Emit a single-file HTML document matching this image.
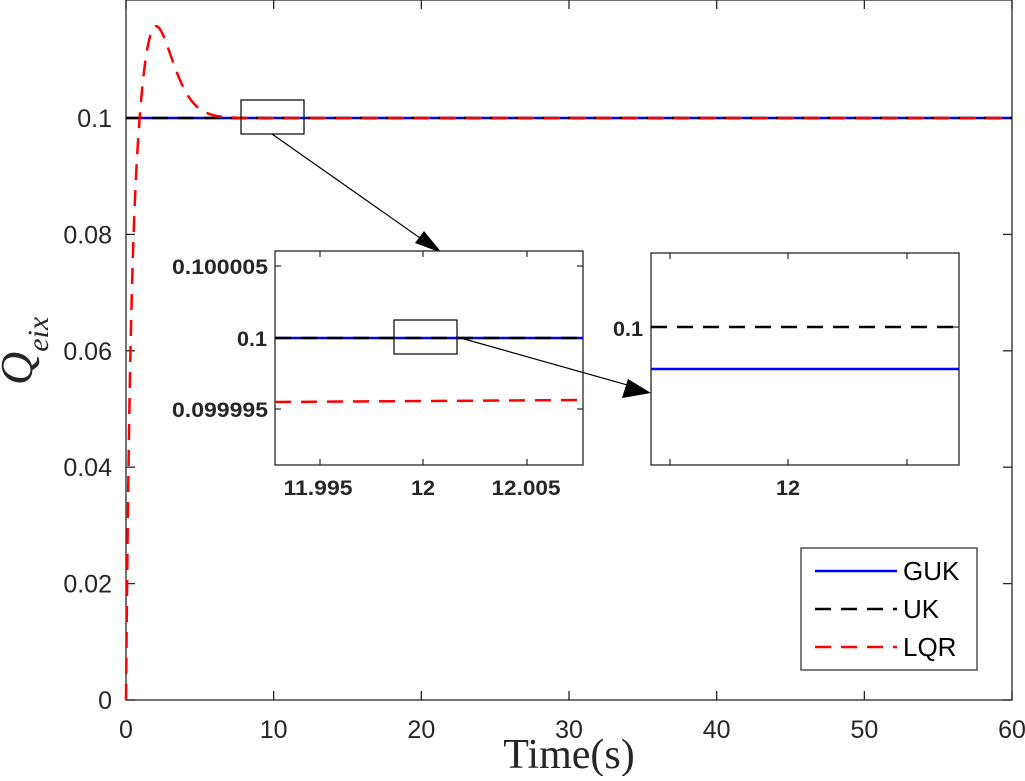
<!DOCTYPE html>
<html><head><meta charset="utf-8"><style>
html,body{margin:0;padding:0;background:#fff;}
svg text{font-family:"Liberation Sans",sans-serif;}
</style></head><body>
<svg id="s" width="1025" height="776" xmlns="http://www.w3.org/2000/svg">
<rect width="1025" height="776" fill="#fff"/>
<g stroke="#262626" stroke-width="1.3" fill="none">
<rect x="126" y="0" width="886" height="700"/>
</g>
<g id="ticks" stroke="#262626" stroke-width="1.3"></g>
<g font-size="25" fill="#262626" text-anchor="end" id="ylab"></g>
<g font-size="25" fill="#262626" text-anchor="middle" id="xlab"></g>
<text x="569" y="768" font-size="42" text-anchor="middle" fill="#262626" style="font-family:'Liberation Serif',serif">Time(s)</text>
<text transform="translate(32,385) rotate(-90)" font-size="46" fill="#262626" style="font-family:'Liberation Serif',serif;font-style:italic">Q<tspan font-size="30" dy="16">eix</tspan></text>
<line x1="126" y1="118" x2="1012" y2="118" stroke="#0000ff" stroke-width="2.5"/>
<line x1="126" y1="118" x2="1012" y2="118" stroke="#000" stroke-width="2.5" stroke-dasharray="16,10"/>
<path id="red" fill="none" stroke="#ff0000" stroke-width="2.5" stroke-dasharray="16,10"/>
<rect x="241" y="100" width="63" height="34" fill="none" stroke="#000" stroke-width="1.2"/>
<line x1="272" y1="134" x2="430" y2="245" stroke="#000" stroke-width="1.2"/>
<polygon points="442,253 415,243 424,231" fill="#000"/>
<rect x="275" y="251" width="308" height="214" fill="#fff" stroke="#262626" stroke-width="1.3"/>
<g stroke="#262626" stroke-width="1.2">
<line x1="320" y1="465" x2="320" y2="459"/><line x1="423" y1="465" x2="423" y2="459"/><line x1="527" y1="465" x2="527" y2="459"/>
<line x1="320" y1="251" x2="320" y2="257"/><line x1="423" y1="251" x2="423" y2="257"/><line x1="527" y1="251" x2="527" y2="257"/>
<line x1="275" y1="266" x2="281" y2="266"/><line x1="275" y1="338" x2="281" y2="338"/><line x1="275" y1="409" x2="281" y2="409"/>
<line x1="583" y1="266" x2="577" y2="266"/><line x1="583" y1="338" x2="577" y2="338"/><line x1="583" y1="409" x2="577" y2="409"/>
</g>
<line x1="275" y1="338" x2="583" y2="338" stroke="#0000ff" stroke-width="2.5"/>
<line x1="275" y1="338" x2="583" y2="338" stroke="#000" stroke-width="2.5" stroke-dasharray="16,10"/>
<line x1="275" y1="402" x2="583" y2="400" stroke="#ff0000" stroke-width="2.5" stroke-dasharray="16,10"/>
<g font-size="21" font-weight="bold" fill="#262626">
<text x="268" y="274" text-anchor="end" textLength="96" lengthAdjust="spacingAndGlyphs">0.100005</text>
<text x="267" y="346" text-anchor="end" textLength="30" lengthAdjust="spacingAndGlyphs">0.1</text>
<text x="268" y="417" text-anchor="end" textLength="96" lengthAdjust="spacingAndGlyphs">0.099995</text>
<text x="318" y="495" text-anchor="middle" textLength="69" lengthAdjust="spacingAndGlyphs">11.995</text>
<text x="423" y="495" text-anchor="middle" textLength="24" lengthAdjust="spacingAndGlyphs">12</text>
<text x="526" y="495" text-anchor="middle" textLength="69" lengthAdjust="spacingAndGlyphs">12.005</text>
</g>
<rect x="394" y="320" width="63" height="34" fill="none" stroke="#000" stroke-width="1.2"/>
<line x1="457" y1="337" x2="638" y2="388" stroke="#000" stroke-width="1.2"/>
<polygon points="651,393 622,398 628,379" fill="#000"/>
<rect x="651" y="253" width="308" height="212" fill="#fff" stroke="#262626" stroke-width="1.3"/>
<g stroke="#262626" stroke-width="1.2">
<line x1="670" y1="465" x2="670" y2="459"/><line x1="788" y1="465" x2="788" y2="459"/><line x1="907" y1="465" x2="907" y2="459"/>
<line x1="670" y1="253" x2="670" y2="259"/><line x1="788" y1="253" x2="788" y2="259"/><line x1="907" y1="253" x2="907" y2="259"/>
<line x1="651" y1="327" x2="657" y2="327"/><line x1="959" y1="327" x2="953" y2="327"/>
</g>
<line x1="651" y1="369" x2="959" y2="369" stroke="#0000ff" stroke-width="2.5"/>
<line x1="651" y1="327" x2="959" y2="327" stroke="#000" stroke-width="2.5" stroke-dasharray="16,10"/>
<g font-size="21" font-weight="bold" fill="#262626">
<text x="643" y="336" text-anchor="end" textLength="30" lengthAdjust="spacingAndGlyphs">0.1</text>
<text x="788" y="495" text-anchor="middle" textLength="24" lengthAdjust="spacingAndGlyphs">12</text>
</g>
<rect x="801" y="548" width="176" height="122" fill="#fff" stroke="#262626" stroke-width="1.2"/>
<line x1="815" y1="571" x2="897" y2="571" stroke="#0000ff" stroke-width="2.5"/>
<line x1="815" y1="609" x2="897" y2="609" stroke="#000" stroke-width="2.5" stroke-dasharray="16,10"/>
<line x1="815" y1="647" x2="897" y2="647" stroke="#ff0000" stroke-width="2.5" stroke-dasharray="16,10"/>
<g font-size="26" fill="#000">
<text x="903" y="580">GUK</text>
<text x="903" y="618">UK</text>
<text x="903" y="656">LQR</text>
</g>
</svg>
<script>
var X=function(t){return 126+t*14.767;},Y=function(v){return 700-v*5820;};
var ns="http://www.w3.org/2000/svg";
var tk=document.getElementById('ticks'),yl=document.getElementById('ylab'),xl=document.getElementById('xlab');
function ln(a,b,c,d){var l=document.createElementNS(ns,'line');l.setAttribute('x1',a);l.setAttribute('y1',b);l.setAttribute('x2',c);l.setAttribute('y2',d);tk.appendChild(l);}
function tx(g,x,y,s){var t=document.createElementNS(ns,'text');t.setAttribute('x',x);t.setAttribute('y',y);t.textContent=s;g.appendChild(t);}
for(var i=0;i<=6;i++){var x=X(i*10);ln(x,700,x,691);ln(x,0,x,9);tx(xl,x,738,String(i*10));}
var yv=['0','0.02','0.04','0.06','0.08','0.1'];
for(var j=0;j<6;j++){var y=Y(j*0.02);ln(126,y,135,y);ln(1012,y,1003,y);tx(yl,112,y+9,yv[j]);}
var d='';
for(var k=0;k<=1200;k++){var t=k*0.05;var v=0.1*(1-Math.exp(-3*t))+0.016*Math.pow(t/2,4)*Math.exp(4-2*t);d+=(k?'L':'M')+X(t).toFixed(2)+' '+Y(v).toFixed(2);}
document.getElementById('red').setAttribute('d',d);
</script>
</body></html>
